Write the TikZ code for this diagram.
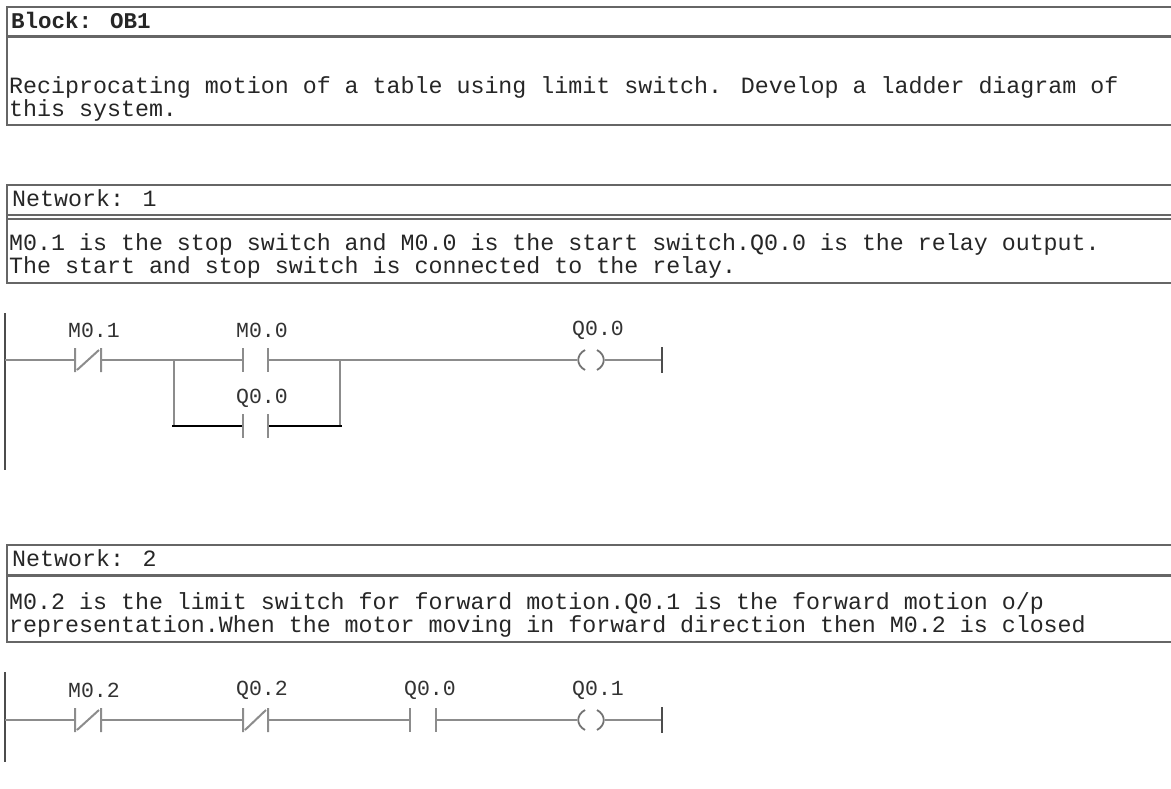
\documentclass[tikz,border=0pt]{standalone}
\usepackage{fontspec}
\setmainfont{Liberation Mono}
\begin{document}
\begin{tikzpicture}[x=1pt,y=-1pt,
  frame/.style={draw=black!60,line width=2pt},
  rung/.style={draw=black!45,line width=2pt},
  rungk/.style={draw=black,line width=2.5pt},
  rail/.style={draw=black!70,line width=2pt},
  coil/.style={draw=black!55,line width=1.8pt},
  txt/.style={anchor=west,inner sep=0pt,font=\fontsize{23.3}{23}\selectfont,text=black!85},
  lbl/.style={anchor=center,inner sep=0pt,font=\fontsize{21.5}{22}\selectfont,text=black!80}]
\useasboundingbox (0,0) rectangle (1171,789);
% Block box
\draw[frame] (1171,7) -- (7,7) -- (7,125) -- (1171,125);
\draw[frame,line width=3pt] (7,37) -- (1171,37);
\node[txt,font=\fontsize{22.5}{23}\selectfont\bfseries] (bt) at (11,20) {Block: OB1};
\node[txt] (b1) at (9,87) {Reciprocating motion of a table using limit switch. Develop a ladder diagram of};
\node[txt] (b2) at (9,110) {this system.};
% Network 1 box
\draw[frame] (1171,185) -- (7,185) -- (7,283) -- (1171,283);
\draw[frame,line width=1.2pt] (7,215) -- (1171,215);
\draw[frame,line width=1.2pt] (7,219) -- (1171,219);
\node[txt] (n1) at (12,198) {Network: 1};
\node[txt] (n1a) at (9,244) {M0.1 is the stop switch and M0.0 is the start switch.Q0.0 is the relay output.};
\node[txt] (n1b) at (9,267) {The start and stop switch is connected to the relay.};
% Ladder 1
\draw[rail] (5,313) -- (5,470);
\draw[rung] (5,360) -- (75,360);
\draw[rung] (75,348) -- (75,372) (101,348) -- (101,372) (77,370) -- (99,350);
\draw[rung] (101,360) -- (243,360) (243,348) -- (243,372);
\draw[rung] (268,348) -- (268,372) (268,360) -- (577,360);
\draw[rung] (174,360) -- (174,426) (340,360) -- (340,426);
\draw[rungk] (172,426) -- (243,426) (268,426) -- (342,426);
\draw[rung] (243,414) -- (243,438) (268,414) -- (268,438);
\draw[coil] (585,350) .. controls (576,355) and (576,365) .. (585,370);
\draw[coil] (597,350) .. controls (606,355) and (606,365) .. (597,370);
\draw[rung] (605,360) -- (662,360);
\draw[rail] (662,347) -- (662,373);
\node[lbl] (l1) at (94,330) {M0.1};
\node[lbl] (l2) at (262,330) {M0.0};
\node[lbl] (l3) at (262,398) {Q0.0};
\node[lbl] (l4) at (598,330) {Q0.0};
% Network 2 box
\draw[frame] (1171,545) -- (7,545) -- (7,642) -- (1171,642);
\draw[frame,line width=3pt] (7,575) -- (1171,575);
\node[txt] (n2) at (12,558) {Network: 2};
\node[txt] (n2a) at (9,603) {M0.2 is the limit switch for forward motion.Q0.1 is the forward motion o/p};
\node[txt] (n2b) at (9,626) {representation.When the motor moving in forward direction then M0.2 is closed};
% Ladder 2
\draw[rail] (5,672) -- (5,762);
\draw[rung] (5,720) -- (75,720);
\draw[rung] (75,708) -- (75,732) (101,708) -- (101,732) (77,730) -- (99,710);
\draw[rung] (101,720) -- (243,720);
\draw[rung] (243,708) -- (243,732) (268,708) -- (268,732) (245,730) -- (266,710);
\draw[rung] (268,720) -- (410,720);
\draw[rung] (410,708) -- (410,732) (436,708) -- (436,732);
\draw[rung] (436,720) -- (577,720);
\draw[coil] (585,710) .. controls (576,715) and (576,725) .. (585,730);
\draw[coil] (597,710) .. controls (606,715) and (606,725) .. (597,730);
\draw[rung] (605,720) -- (662,720);
\draw[rail] (662,707) -- (662,733);
\node[lbl] (m1) at (94,690) {M0.2};
\node[lbl] (m2) at (262,690) {Q0.2};
\node[lbl] (m3) at (430,690) {Q0.0};
\node[lbl] (m4) at (598,690) {Q0.1};
\end{tikzpicture}
\end{document}
